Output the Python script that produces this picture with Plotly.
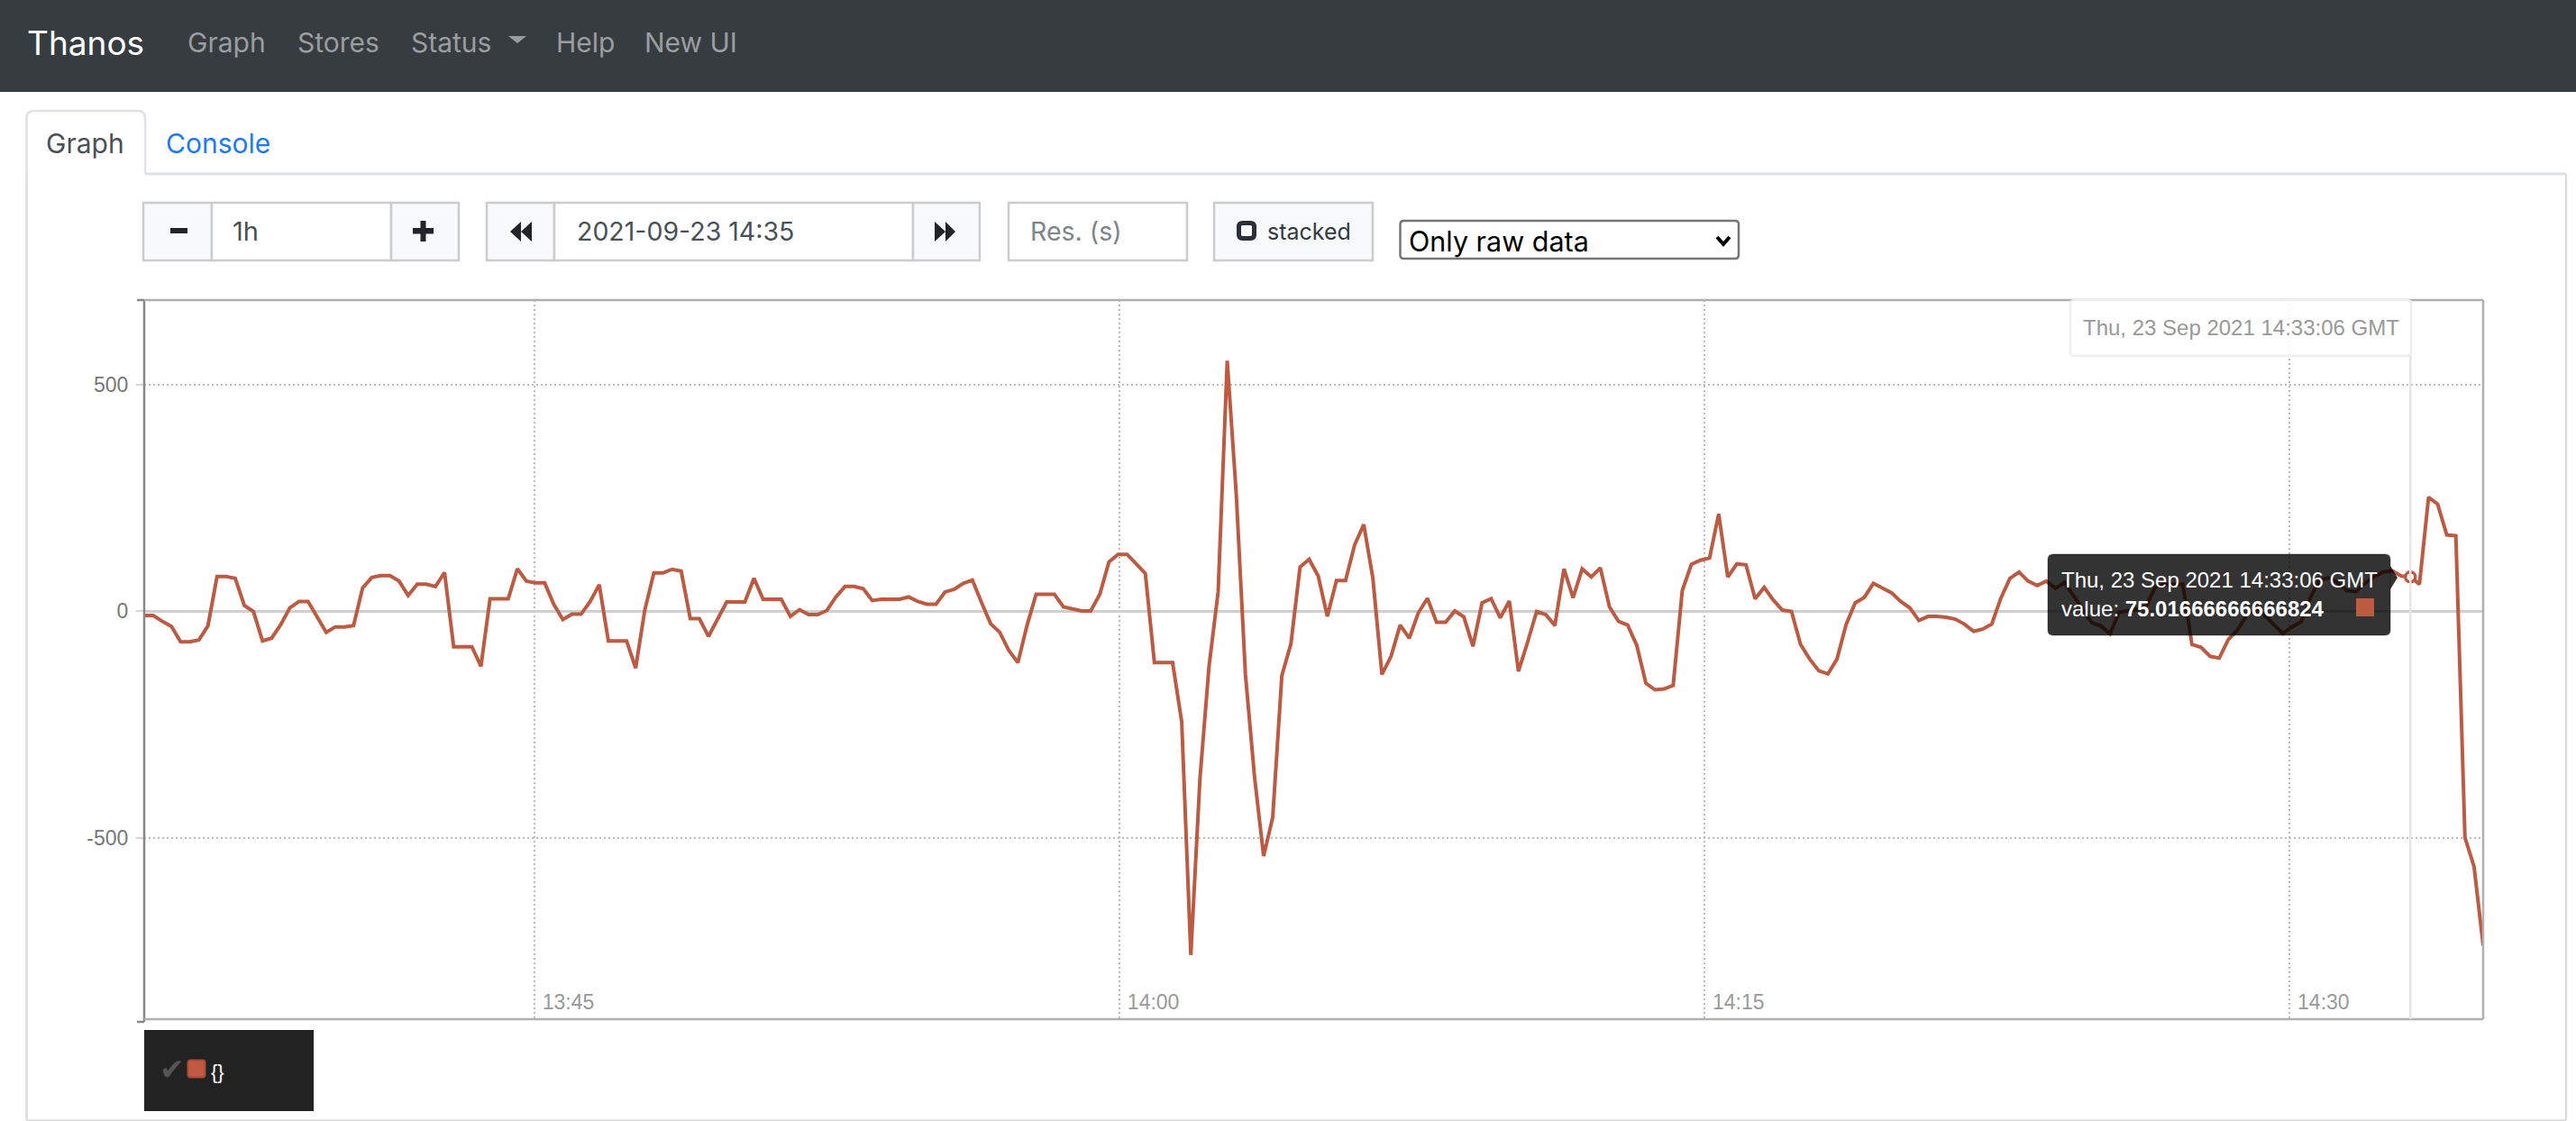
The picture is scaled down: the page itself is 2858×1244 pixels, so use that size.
import pandas as pd
import plotly.graph_objects as go

# ---------- data ----------
series_name = "{}"
start_time = "2021-09-23 13:35:00"
step = "14s"
values = [
    -10, -10, -23, -34, -68, -68, -64, -33, 76, 76, 72, 12, -1, -66, -60, -30, 7, 21, 21, -13,
    -47, -35, -35, -32, 51, 74, 78, 78, 66, 34, 59, 59, 54, 85, -79, -79, -79, -122, 27, 27,
    27, 93, 66, 62, 62, 15, -19, -7, -7, 21, 58, -66, -66, -66, -126, 2, 84, 84, 92, 88,
    -17, -17, -56, -18, 20, 20, 20, 72, 26, 26, 26, -12, 3, -8, -8, 1, 31, 54, 54, 49,
    23, 26, 26, 26, 31, 21, 15, 15, 42, 48, 61, 68, 19, -28, -47, -87, -114, -32, 37, 37,
    37, 9, 4, 0, 0, 37, 108, 125, 125, 104, 83, -114, -114, -114, -245, -759, -371, -122, 42, 552,
    255, -140, -366, -541, -455, -143, -72, 97, 114, 77, -12, 67, 67, 146, 191, 73, -140, -100, -31, -60,
    -4, 28, -25, -25, 0, -13, -78, 18, 27, -15, 22, -133, -69, -1, -8, -32, 93, 29, 93, 75,
    95, 9, -23, -31, -76, -159, -174, -172, -164, 45, 103, 112, 117, 214, 75, 104, 102, 27, 52, 24,
    2, -1, -74, -106, -132, -139, -106, -30, 18, 30, 61, 51, 40, 21, 7, -21, -12, -12, -14, -18,
    -29, -45, -40, -29, 28, 72, 86, 66, 56, 66, 50, 63, 33, 1, -26, -33, -50, -3, 1, 4,
    11, 54, 58, 59, 59, -74, -80, -100, -104, -63, -42, -10, 8, -10, -31, -50, -35, -24, 29, 68,
    73, 63, 45, 43, 61, 75, 86, 89, 77, 75.01666666666824, 59, 251, 236, 168, 166, -500, -564, -738,
]
x_tick_times = ["2021-09-23 13:45", "2021-09-23 14:00", "2021-09-23 14:15", "2021-09-23 14:30"]
x_tick_labels = ["13:45", "14:00", "14:15", "14:30"]
y_tick_values = [500, 0, -500]
y_tick_labels = ["500", "0", "-500"]
hover_index = 249
hover_label = "Thu, 23 Sep 2021 14:33:06 GMT"
hover_value = "75.01666666666824"
nav_labels = ["Graph", "Stores", "Status", "Help", "New UI"]
# ------------------------------------------------

W, H = 2858, 1244
L, R, T, B = 160, 2755, 333, 1131
times = pd.date_range(start_time, periods=len(values), freq=step)
LINE = "#bd5a42"
UI = "Inter"
CHART = "Liberation Sans"


def X(v):
    return (v - L) / (R - L)


def Y(v):
    return (B - v) / (B - T)


def P(d):
    """Turn a path written in page pixels into paper coordinates."""
    out, is_x = [], True
    for tok in d.split():
        if tok.isalpha():
            out.append(tok)
            is_x = True
        else:
            v = float(tok)
            out.append(f"{X(v) if is_x else Y(v):.6f}")
            is_x = not is_x
    return " ".join(out)


shapes, notes = [], []


def rect(x0, y0, x1, y1, fill=None, line=None, lw=0, layer="below"):
    shapes.append(dict(type="rect", xref="paper", yref="paper", x0=X(x0), x1=X(x1), y0=Y(y0), y1=Y(y1),
                       fillcolor=fill or "rgba(0,0,0,0)", line=dict(color=line or "rgba(0,0,0,0)", width=lw), layer=layer))


def seg(x0, y0, x1, y1, color, lw, layer="below"):
    shapes.append(dict(type="line", xref="paper", yref="paper", x0=X(x0), x1=X(x1), y0=Y(y0), y1=Y(y1),
                       line=dict(color=color, width=lw), layer=layer))


def path(d, fill=None, line=None, lw=0, layer="below"):
    shapes.append(dict(type="path", xref="paper", yref="paper", path=P(d),
                       fillcolor=fill or "rgba(0,0,0,0)", line=dict(color=line or "rgba(0,0,0,0)", width=lw), layer=layer))


def round_rect(x0, y0, x1, y1, r):
    return (f"M {x0+r} {y0} L {x1-r} {y0} Q {x1} {y0} {x1} {y0+r} L {x1} {y1-r} Q {x1} {y1} {x1-r} {y1} "
            f"L {x0+r} {y1} Q {x0} {y1} {x0} {y1-r} L {x0} {y0+r} Q {x0} {y0} {x0+r} {y0} Z")


def text(x, y, s, size, color, family=UI, anchor="left"):
    notes.append(dict(xref="paper", yref="paper", x=X(x), y=Y(y), text=s, showarrow=False, xanchor=anchor,
                      yanchor="middle", borderpad=0, borderwidth=0, font=dict(size=size, color=color, family=family)))


# navbar
rect(0, 0, W, 102, fill="#373c40")
text(30, 47, "Thanos", 37, "#ffffff")
NAV = "#9b9ea1"
for lab, nx in zip(nav_labels, [208, 330, 456, 617, 715]):
    text(nx, 47, lab, 30, NAV)
path("M 564 40 L 584 40 L 574 48 Z", fill=NAV)

# tabs and panel
BORD = "#dee2e6"
seg(161, 193, 2847, 193, BORD, 3)
path("M 29.5 193 L 29.5 131 Q 29.5 123 38 123 L 153 123 Q 161 123 161 131 L 161 193", line=BORD, lw=2.5)
seg(29.5, 193, 29.5, 1243, "#dddddd", 2.5)
seg(29, 1243.5, 2847, 1243.5, "#dddddd", 2.5)
seg(2847, 193, 2847, 1243, "#dddddd", 2.5)
text(51, 159, "Graph", 30, "#495057")
text(184, 159, "Console", 30, "#1a7afa")

# time range group
CTRL = "#cccccc"
LIGHT = "#f8f9fa"
DARK = "#212529"
rect(159, 225, 235, 289, fill=LIGHT, line=CTRL, lw=2.5)
rect(235, 225, 434, 289, fill="#ffffff", line=CTRL, lw=2.5)
rect(434, 225, 509, 289, fill=LIGHT, line=CTRL, lw=2.5)
rect(189, 253, 208, 259, fill=DARK)
rect(458, 253, 481, 259.5, fill=DARK)
rect(466.5, 245, 472.5, 268, fill=DARK)
text(258, 257, "1h", 29, "#495057")

# end time group
rect(540, 225, 615, 289, fill=LIGHT, line=CTRL, lw=2.5)
rect(615, 225, 1013, 289, fill="#ffffff", line=CTRL, lw=2.5)
rect(1013, 225, 1087, 289, fill=LIGHT, line=CTRL, lw=2.5)
path("M 578 246 L 578 268 L 566 257 Z M 590 246 L 590 268 L 578 257 Z", fill=DARK)
path("M 1037 246 L 1037 268 L 1049 257 Z M 1049 246 L 1049 268 L 1060 257 Z", fill=DARK)
text(640, 257, "2021-09-23 14:35", 28.5, "#495057")

# resolution input
rect(1119, 225, 1317, 289, fill="#ffffff", line=CTRL, lw=2.5)
text(1143, 257, "Res. (s)", 28.5, "#7d848a")

# stacked button
rect(1347, 225, 1523, 289, fill=LIGHT, line=CTRL, lw=2.5)
path(round_rect(1374.5, 247.5, 1391.5, 264.5, 4), line="#2b2f38", lw=5)
text(1406, 257, "stacked", 25, "#343a40")

# select
path(round_rect(1553.5, 245, 1929, 287, 4), fill="#ffffff", line="#767676", lw=2.5)
text(1563, 267, "Only raw data", 30.5, "#000000")
path("M 1905 263 L 1912 271 L 1919 263", line="#000000", lw=4)

# chart decoration in page space
seg(152, T, L, T, "#888888", 2.5, layer="above")
seg(152, 1134, L, 1134, "#888888", 2.5, layer="above")
seg(160, 332, 160, 1134, "#888888", 2.5, layer="above")
seg(L, T, R, T, "#b0b0b0", 2.5, layer="above")
seg(L, B, R, B, "#b0b0b0", 2.5, layer="above")
seg(R, T, R, B, "#b0b0b0", 2.5, layer="above")

# hover detail: vertical line at the hovered sample
shapes.append(dict(type="line", xref="x", yref="paper", x0=times[hover_index], x1=times[hover_index], y0=0, y1=1,
                   line=dict(color="#e6e6e6", width=2.5), layer="above"))
# top date box
path(round_rect(2297, 333, 2675, 395, 5), fill="rgba(255,255,255,0.85)", line="#efefef", lw=2.5, layer="above")
text(2311, 363, hover_label, 24, "#999999", CHART)
# tooltip
path(round_rect(2272, 615, 2652, 705, 6), fill="rgba(0,0,0,0.8)", line="rgba(0,0,0,0.25)", lw=1.5, layer="above")
path("M 2652 628 L 2660 641 L 2652 654 Z", fill="rgba(0,0,0,0.8)", layer="above")
rect(2614, 664, 2634, 684, fill=LINE, layer="above")
text(2287, 643, hover_label, 24, "#ffffff", CHART)
text(2287, 675, f"value: <b>{hover_value}</b>", 24, "#ffffff", CHART)

# legend
rect(160, 1143, 348, 1233, fill="#222222")
text(177, 1186, "✔", 33, "#555555", "DejaVu Sans")
path(round_rect(208.5, 1176.5, 227.5, 1195.5, 3), fill="#c05a42", line="#a84c37", lw=2)
text(234, 1189, series_name, 22, "#ffffff", CHART)

fig = go.Figure()
fig.add_trace(go.Scatter(x=times, y=values, mode="lines", name=series_name,
                         line=dict(color=LINE, width=4, shape="linear"), hoverinfo="skip", showlegend=False))
fig.add_trace(go.Scatter(x=[times[hover_index]], y=[values[hover_index]], mode="markers", hoverinfo="skip",
                         marker=dict(size=11, color="#ffffff", line=dict(color=LINE, width=3.5)), showlegend=False))

fig.update_layout(
    width=W, height=H, autosize=False, template=None,
    paper_bgcolor="#ffffff", plot_bgcolor="#ffffff",
    margin=dict(l=L, r=W - R, t=T, b=H - B, pad=0),
    shapes=shapes, annotations=notes, showlegend=False,
    xaxis=dict(
        type="date", range=[times[0], times[-1]], tickmode="array", tickvals=x_tick_times, ticktext=x_tick_labels,
        showgrid=True, gridcolor="#bbbbbb", gridwidth=2, griddash="2px,3px", zeroline=False, showline=False,
        ticks="", ticklabelposition="inside right", ticklabelshift=9,
        tickfont=dict(family=CHART, size=23, color="#999999"),
    ),
    yaxis=dict(
        range=[-900.6, 686], tickmode="array", tickvals=y_tick_values, ticktext=y_tick_labels,
        showgrid=True, gridcolor="#bbbbbb", gridwidth=2, griddash="2px,3px",
        zeroline=True, zerolinecolor="#cfcfcf", zerolinewidth=2.5, showline=False,
        ticks="outside", ticklen=8, tickwidth=2, tickcolor="#d5d5d5", ticklabelstandoff=4,
        tickfont=dict(family=CHART, size=23, color="#777777"),
    ),
)

fig.write_html(
    "out.html",
    config={"displayModeBar": False, "responsive": False},
    post_script="document.body.style.margin='0';document.body.style.overflow='hidden';",
)
